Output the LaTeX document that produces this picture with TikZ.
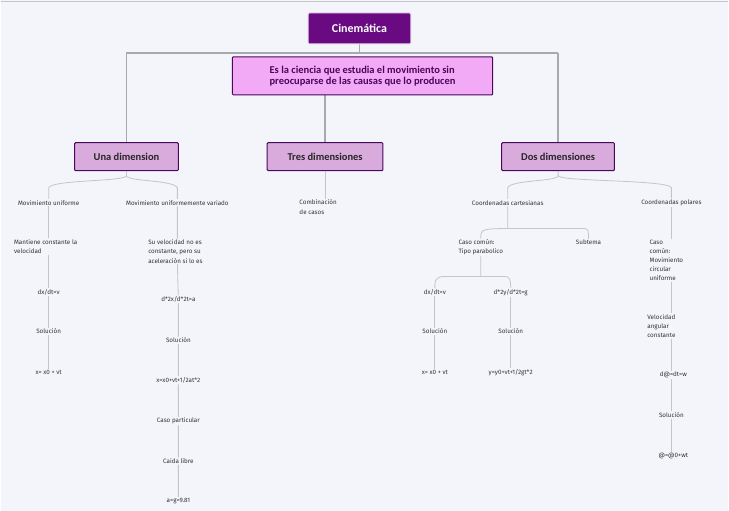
\documentclass[tikz,border=0pt]{standalone}
\usepackage{fontspec}
\setmainfont{Carlito}
\newfontfamily\smallf{Fira Sans}
\definecolor{bg}{HTML}{F3F5FB}
\definecolor{dpur}{HTML}{6A0A82}
\definecolor{pinkf}{HTML}{F2A9F6}
\definecolor{lilac}{HTML}{D9ABDD}
\definecolor{ln}{HTML}{C4C4CA}
\definecolor{ln2}{HTML}{A8A8AE}
\begin{document}
\begin{tikzpicture}[x=1pt,y=-1pt,
  box/.style={draw=dpur!70!black,line width=1pt,font=\bfseries\fontsize{10.5}{11}\selectfont,inner sep=0pt,rounded corners=1pt},
  t/.style={font=\smallf\fontsize{6.3}{9.2}\selectfont,text=black!80,inner sep=1pt,align=center},
  tl/.style={t,align=left},
  c/.style={draw=ln,line width=0.8pt},
  m/.style={draw=ln2,line width=1.3pt}]
\fill[bg] (0,0) rectangle (729,512);
\draw[ln,line width=1.5pt] (0,1.5) -- (729,1.5);
\coordinate (j) at (359.5,53);
\coordinate (jl) at (126,53);
\coordinate (jr) at (558.5,53);
\coordinate (cx) at (481,0);
\draw[m] (j) -- (359.5,40) (jl) -- (jr);
\draw[m] (jl) -- (126,145);
\draw[m] (jr) -- (558.5,145);
\draw[m] (325,90) -- (325,145);
\node[box,fill=dpur,text=white,minimum width=103pt,minimum height=31pt,draw=white!85!dpur,font=\bfseries\fontsize{12}{13}\selectfont] (cin) at (359.5,28.5) {Cinemática};
\node[box,fill=pinkf,text=dpur!70!black,minimum width=261pt,minimum height=38pt,align=left] (es) at (362.5,76) {Es la ciencia que estudia el movimiento sin\\preocuparse de las causas que lo producen};
\node[box,fill=lilac,text=black!85,minimum width=104pt,minimum height=28pt] (una) at (126,157) {Una dimension};
\node[box,fill=lilac,text=black!85,minimum width=116pt,minimum height=28pt] (tres) at (325,157) {Tres dimensiones};
\node[box,fill=lilac,text=black!85,minimum width=113pt,minimum height=28pt] (dos) at (558.5,157) {Dos dimensiones};
% Una dimension
\node[t] (mu) at (48,203) {Movimiento uniforme};
\node[t] (muv) at (177,203) {Movimiento uniformemente variado};
\draw[c] (una.south) -- (126,176) .. controls (126,182) and (52,180) .. (48,188) -- (mu.north);
\draw[c] (126,176) .. controls (126,182) and (172,180) .. (177,188) -- (muv.north);
\node[tl] (man) at (45,247) {Mantiene constante la\\velocidad};
\node[t] (dx1) at (48,293) {dx/dt=v};
\node[t] (s1) at (48,332) {Solución};
\node[t] (x1) at (48,373) {x= x0 + vt};
\draw[c] (mu) -- (mu |- man.north) (mu |- man.south) -- (dx1) (dx1) -- (s1) (s1) -- (x1);
\node[tl] (su) at (175,252) {Su velocidad no es\\constante, pero su\\aceleración si lo es};
\node[t] (d2x) at (178,300) {d*2x/d*2t=a};
\node[t] (s2) at (178,341) {Solución};
\node[t] (x2) at (178,381) {x=x0+vt+1/2at*2};
\node[t] (cp) at (178,422) {Caso particular};
\node[t] (cl) at (178,462) {Caida libre};
\node[t] (ag) at (178,502) {a=g=9.81};
\draw[c] (muv) -- (muv |- su.north) (muv |- su.south) -- (d2x) (d2x) -- (s2) (s2) -- (x2) (x2) -- (cp) (cp) -- (cl) (cl) -- (ag);
% Tres
\node[tl] (comb) at (318,207.5) {Combinación\\de casos};
\draw[c] (tres.south) -- (tres |- comb.north);
% Dos
\node[t] (cc) at (508,203) {Coordenadas cartesianas};
\node[t] (cpo) at (672,203) {Coordenadas polares};
\draw[c] (dos.south) -- (558.5,176) .. controls (558.5,182) and (512,180) .. (508,188) -- (cc.north);
\draw[c] (558.5,176) .. controls (558.5,182) and (668,180) .. (672,188) -- (cpo.north);
\node[tl] (ccom) at (481,248) {Caso común:\\Tipo parabolico};
\node[t] (sub) at (589,243) {Subtema};
\draw[c] (cc) -- (508,229) (cx |- ccom.north) -- (481,236) .. controls (481,230) and (485,229) .. (508,229) -- (585,229) .. controls (589,229) and (589,232) .. (sub.north);
\node[t] (dx3) at (435,293) {dx/dt=v};
\node[t] (d2y) at (511,293) {d*2y/d*2t=g};
\node[t] (s3) at (435,332) {Solución};
\node[t] (s4) at (511,332) {Solución};
\node[t] (x3) at (435,373) {x= x0 + vt};
\node[t] (y4) at (511,373) {y=y0+vt+1/2gt*2};
\draw[c] (cx |- ccom.south) -- (481,277) (dx3.north) -- (435,285) .. controls (435,279) and (439,277) .. (445,277) -- (505,277) .. controls (510,277) and (511,280) .. (d2y.north);
\draw[c] (dx3) -- (s3) (s3) -- (x3) (d2y) -- (s4) (s4) -- (y4);
\node[tl] (pcom) at (667,261) {Caso\\común:\\Movimiento\\circular\\uniforme};
\node[tl] (vel) at (662,327) {Velocidad\\angular\\constante};
\node[t] (dw) at (674,376) {d@=dt=w};
\node[t] (s5) at (672,416) {Solución};
\node[t] (th) at (674,457) {@=@0+wt};
\draw[c] (cpo) -- (cpo |- pcom.north) (cpo |- pcom.south) -- (cpo |- vel.north) (cpo |- vel.south) -- (cpo |- dw.north) (cpo |- dw.south) -- (cpo |- s5.north) (cpo |- s5.south) -- (cpo |- th.north);
\end{tikzpicture}
\end{document}
